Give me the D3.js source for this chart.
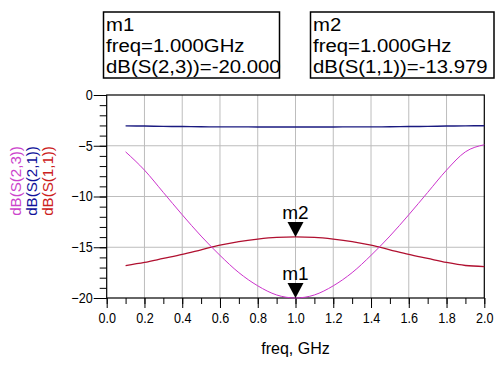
<!DOCTYPE html>
<html>
<head>
<meta charset="utf-8">
<script src="https://cdn.jsdelivr.net/npm/d3@7"></script>
<style>
  body { margin: 0; background: #fff; }
  text { font-family: "Liberation Sans", Arial, sans-serif; }
</style>
</head>
<body>
<div id="chart"></div>
<script>
// sweep points, GHz
var freq = [0.1, 0.2, 0.3, 0.4, 0.5, 0.6, 0.7, 0.8, 0.9, 1.0,
            1.1, 1.2, 1.3, 1.4, 1.5, 1.6, 1.7, 1.8, 1.9, 2.0];
// dB(S(2,3))
var s23 = [-5.6, -7.4, -9.6, -11.8, -13.9, -15.8, -17.5, -18.8, -19.7, -20.0,
           -19.7, -18.8, -17.5, -15.8, -13.9, -11.8, -9.6, -7.4, -5.6, -4.9];
// dB(S(2,1))
var s21 = [-3.04, -3.06, -3.09, -3.11, -3.13, -3.14, -3.14, -3.15, -3.15, -3.15,
           -3.15, -3.15, -3.14, -3.14, -3.13, -3.11, -3.09, -3.06, -3.04, -3.03];
// dB(S(1,1))
var s11 = [-16.8, -16.5, -16.1, -15.7, -15.25, -14.8, -14.45, -14.2, -14.03, -13.979,
           -14.03, -14.2, -14.45, -14.8, -15.25, -15.7, -16.1, -16.5, -16.8, -16.9];

var xTicks = [0.0, 0.2, 0.4, 0.6, 0.8, 1.0, 1.2, 1.4, 1.6, 1.8, 2.0];
var yTicks = [0, -5, -10, -15, -20];

var markers = [
    {name: "m1", f: 1.0, v: -20.0, label: "dB(S(2,3))=-20.000"},
    {name: "m2", f: 1.0, v: -13.979, label: "dB(S(1,1))=-13.979"}
];

var w = 500, h = 378;

var x = d3.scaleLinear().domain([0, 2]).range([106.7, 484.3]);
var y = d3.scaleLinear().domain([-20, 0]).range([298, 95]);

var svg = d3.select("#chart").append("svg")
    .attr("width", w).attr("height", h);

// squeeze or stretch text to match the original glyph widths
function widen(sel, k) {
    sel.each(function() {
        var len = this.getComputedTextLength();
        d3.select(this).attr("textLength", len * k).attr("lengthAdjust", "spacingAndGlyphs");
    });
}

// grid
svg.selectAll("line.vgrid")
    .data(xTicks.slice(1, -1))
    .enter().append("line")
    .attr("x1", function(d) { return x(d); })
    .attr("x2", function(d) { return x(d); })
    .attr("y1", y(0)).attr("y2", y(-20))
    .attr("stroke", "#bdbdbd").attr("stroke-width", 1);

svg.selectAll("line.hgrid")
    .data(yTicks.slice(1, -1))
    .enter().append("line")
    .attr("x1", x(0)).attr("x2", x(2))
    .attr("y1", function(d) { return y(d); })
    .attr("y2", function(d) { return y(d); })
    .attr("stroke", "#bdbdbd").attr("stroke-width", 1);

// axes with minor ticks
var xMinor = d3.axisBottom(x).ticks(20).tickSize(6).tickFormat("");
var xMajor = d3.axisBottom(x).tickValues(xTicks).tickSize(10).tickPadding(5)
    .tickFormat(d3.format(".1f"));
var yMinor = d3.axisLeft(y).ticks(20).tickSize(7).tickFormat("");
var yMajor = d3.axisLeft(y).tickValues(yTicks).tickSize(13).tickPadding(1)
    .tickFormat(function(d) { return d === 0 ? "0" : d3.format("d")(d); });

var gx1 = svg.append("g").attr("transform", "translate(0," + y(-20) + ")").call(xMinor);
var gx2 = svg.append("g").attr("transform", "translate(0," + y(-20) + ")").call(xMajor);
var gy1 = svg.append("g").attr("transform", "translate(" + x(0) + ",0)").call(yMinor);
var gy2 = svg.append("g").attr("transform", "translate(" + x(0) + ",0)").call(yMajor);

[gx1, gx2, gy1, gy2].forEach(function(g) {
    g.select(".domain").remove();
    g.selectAll("line").attr("stroke", "#000");
    g.selectAll("text").attr("fill", "#000").attr("font-size", 14)
        .attr("font-family", "Liberation Sans, Arial, sans-serif");
});
widen(gx2.selectAll("text"), 0.9);
widen(gy2.selectAll("text"), 0.9);

// frame
svg.append("rect")
    .attr("x", x(0)).attr("y", y(0))
    .attr("width", x(2) - x(0)).attr("height", y(-20) - y(0))
    .attr("fill", "none").attr("stroke", "#000").attr("stroke-width", 1.2);

// curves
var series = [
    {vals: s21, color: "#1a1a80", width: 1.4},
    {vals: s11, color: "#b01030", width: 1.3},
    {vals: s23, color: "#cc33cc", width: 1}
];

var line = d3.line()
    .x(function(d) { return x(d[0]); })
    .y(function(d) { return y(d[1]); })
    .curve(d3.curveMonotoneX);

series.forEach(function(s) {
    svg.append("path")
        .datum(d3.zip(freq, s.vals))
        .attr("d", line)
        .attr("fill", "none")
        .attr("stroke", s.color)
        .attr("stroke-width", s.width);
});

// markers on the traces
markers.forEach(function(m) {
    var px = x(m.f), py = y(m.v);
    svg.append("path")
        .attr("d", "M" + (px - 8) + "," + (py - 15) + "L" + (px + 8) + "," + (py - 15) + "L" + px + "," + py + "Z")
        .attr("fill", "#000");
    svg.append("text")
        .attr("x", px).attr("y", py - 18)
        .attr("text-anchor", "middle")
        .attr("font-size", 19)
        .text(m.name);
});

// marker readout boxes
var boxX = [103.5, 310.5], boxW = [176, 183.5];
markers.forEach(function(m, i) {
    svg.append("rect")
        .attr("x", boxX[i]).attr("y", 12)
        .attr("width", boxW[i]).attr("height", 66)
        .attr("fill", "#fff").attr("stroke", "#000").attr("stroke-width", 1.5);
    var lines = [m.name, "freq=" + d3.format(".3f")(m.f) + "GHz", m.label];
    var t = svg.selectAll(null)
        .data(lines)
        .enter().append("text")
        .attr("x", boxX[i] + 2.5)
        .attr("y", function(d, k) { return 31 + k * 21; })
        .attr("font-size", 18)
        .text(function(d) { return d; });
    widen(t, 1.13);
});

// y-axis titles, one per trace
var yLabels = [
    {text: "dB(S(2,3))", color: "#cc44cc", x: 21},
    {text: "dB(S(2,1))", color: "#10109a", x: 37},
    {text: "dB(S(1,1))", color: "#cc2020", x: 53}
];
var yt = svg.selectAll("text.ylab")
    .data(yLabels)
    .enter().append("text")
    .attr("transform", function(d) { return "translate(" + d.x + ",181) rotate(-90)"; })
    .attr("text-anchor", "middle")
    .attr("font-size", 14)
    .attr("fill", function(d) { return d.color; })
    .text(function(d) { return d.text; });
widen(yt, 1.08);

svg.append("text")
    .attr("x", (x(0) + x(2)) / 2).attr("y", 354)
    .attr("text-anchor", "middle")
    .attr("font-size", 16)
    .text("freq, GHz");
</script>
</body>
</html>
